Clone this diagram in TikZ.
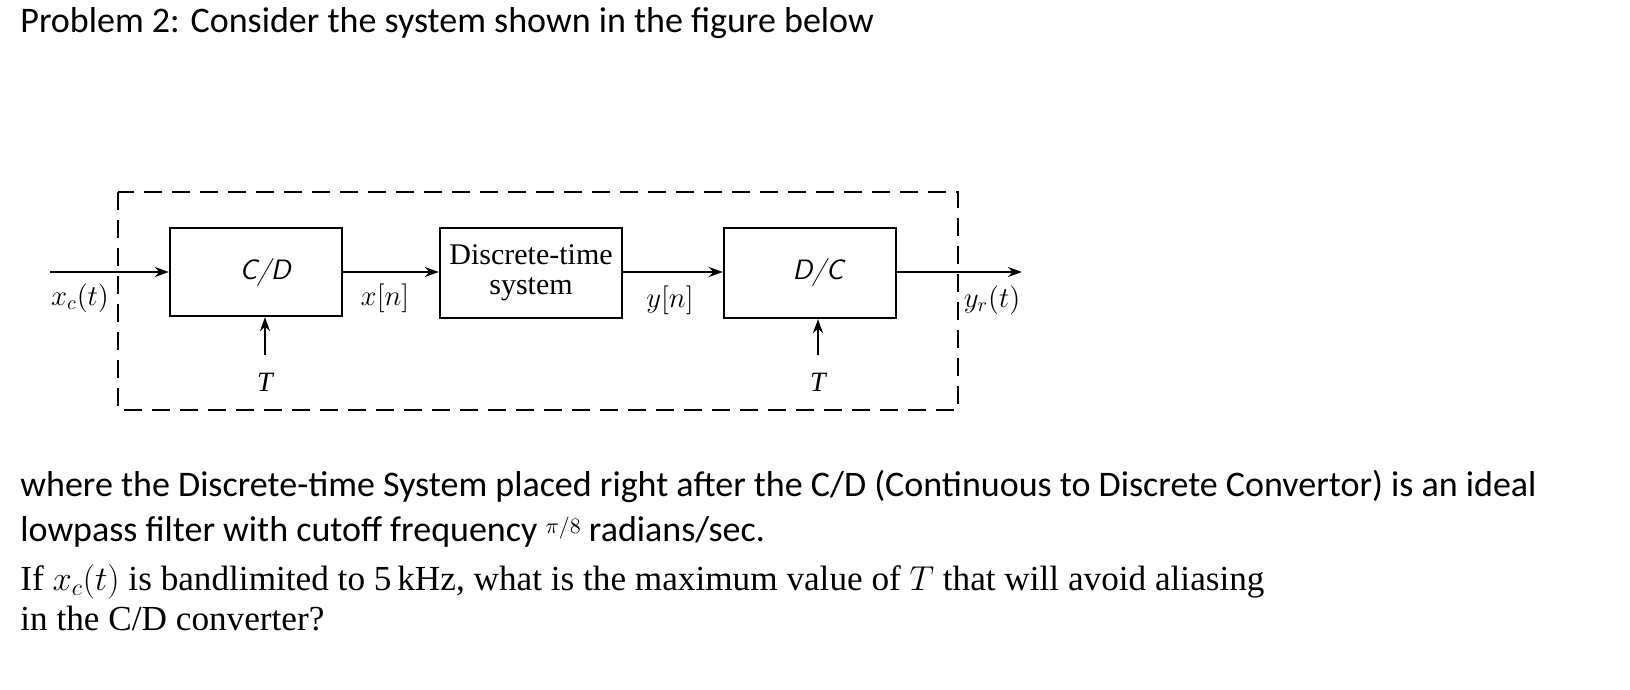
\documentclass[tikz,border=0pt]{standalone}
\usepackage{fontspec}
\setmainfont{Liberation Serif}
\newfontfamily\calfont{Carlito}
\usetikzlibrary{arrows.meta}
\begin{document}
\begin{tikzpicture}[x=0.5pt,y=-0.5pt,
  blk/.style={draw,line width=1.2pt,inner sep=0pt},
  sig/.style={-{Stealth[length=7pt,width=5pt]},line width=0.9pt},
  lbl/.style={font=\fontsize{14}{15}\selectfont},
  txt/.style={anchor=base west,inner sep=0pt}]
\useasboundingbox (0,0) rectangle (1630,690);
\node[txt,font=\calfont\fontsize{18}{21}\selectfont] (title) at (20,33) {Problem 2: Consider the system shown in the figure below};
\draw[dashed,dash pattern=on 9pt off 5pt,line width=0.7pt] (118,192) rectangle (958,410);
\node[blk,minimum width=86pt,minimum height=44pt] (cd) at (256,272) {};
\node[font=\sffamily\itshape\fontsize{14}{15}\selectfont] at (265,272) {C/D};
\node[blk,minimum width=91pt,minimum height=45pt,align=center,font=\fontsize{15}{15}\selectfont] (dt) at (531,273) {Discrete-time\\system};
\node[blk,minimum width=86pt,minimum height=45pt] (dc) at (810,273) {};
\node[font=\sffamily\itshape\fontsize{14}{15}\selectfont] at (818,272) {D/C};
\coordinate (in) at (50,272);
\coordinate (out) at (1022,272);
\draw[sig] (in) -- (cd.west|-in);
\draw[sig] (cd.east|-in) -- (dt.west|-in);
\draw[sig] (dt.east|-in) -- (dc.west|-in);
\draw[sig] (dc.east|-in) -- (out);
\coordinate (t1) at (265,355);
\coordinate (t2) at (818,355);
\draw[sig] (t1) -- (t1|-cd.south);
\draw[sig] (t2) -- (t2|-dc.south);
\node[lbl] (T1) at (265,382) {\itshape T};
\node[lbl] (T2) at (818,382) {\itshape T};
\node[lbl] (xc) at (80,298) {$x_c(t)$};
\node[lbl] (xn) at (385,298) {$x[n]$};
\node[lbl] (yn) at (670,300) {$y[n]$};
\node[lbl] (yr) at (992,300) {$y_r(t)$};
\node[txt,font=\calfont\fontsize{18}{21}\selectfont] (l1) at (20,496) {where the Discrete-time System placed right after the C/D (Continuous to Discrete Convertor) is an ideal};
\node[txt,font=\calfont\fontsize{18}{21}\selectfont] (l2) at (20,541) {lowpass filter with cutoff frequency {\rmfamily\fontsize{11}{12}\selectfont\raisebox{4pt}{$\pi/8$}}\ radians/sec.};
\node[txt,font=\fontsize{17.6}{20}\selectfont] (l3) at (20,590) {If $x_c(t)$ is bandlimited to 5\,kHz, what is the maximum value of $T$ that will avoid aliasing};
\node[txt,font=\fontsize{17.6}{20}\selectfont] (l4) at (20,630) {in the C/D converter?};
\end{tikzpicture}
\end{document}
